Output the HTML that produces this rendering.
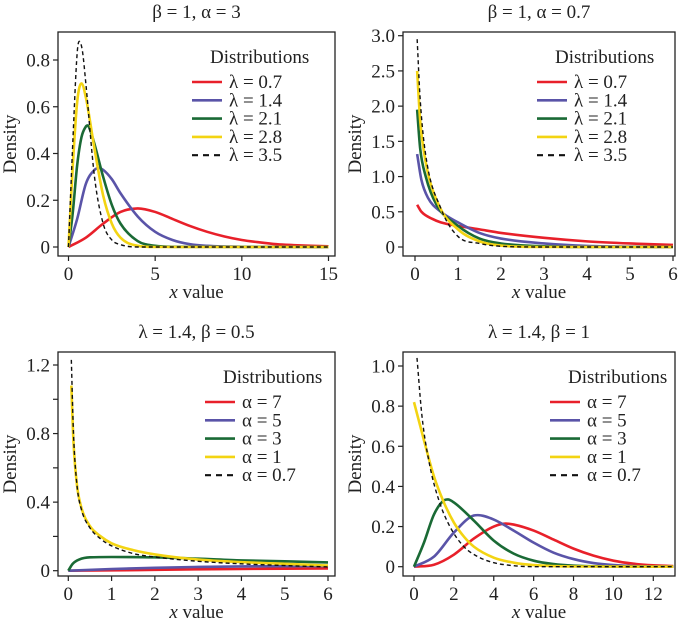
<!DOCTYPE html>
<html><head><meta charset="utf-8">
<style>
html,body{margin:0;padding:0;background:#fff;}
svg{display:block;font-family:"Liberation Serif",serif;}
</style></head>
<body>
<svg id="fig" width="685" height="620" viewBox="0 0 685 620" xmlns="http://www.w3.org/2000/svg"></svg>
<script>
// ---- Panel A: beta=1, alpha=3 ----
const aX1=[0,1,2,3,4,5,6,7,8,9,10,11,12,13,14,15];
const aY1=[0,0.04,0.10,0.15,0.165,0.15,0.12,0.09,0.065,0.045,0.03,0.02,0.012,0.008,0.005,0.003];
const aX2=[0,0.5,1,1.5,1.75,2,2.5,3,4,5,6,7,8,10,15];
const aY2=[0,0.12,0.27,0.33,0.338,0.33,0.29,0.23,0.13,0.065,0.03,0.012,0.005,0.001,0];
const aX3=[0,0.25,0.5,0.75,1,1.1,1.25,1.5,2,2.5,3,4,5,6,15];
const aY3=[0,0.15,0.35,0.47,0.515,0.52,0.5,0.44,0.3,0.18,0.1,0.025,0.005,0.001,0];
const aX4=[0,0.25,0.5,0.75,1,1.5,2,2.5,3,4,5,15];
const aY4=[0,0.35,0.62,0.70,0.64,0.42,0.22,0.1,0.04,0.005,0,0];
const aX5=[0,0.25,0.5,0.62,0.8,1,1.5,2,2.5,3,4,15];
const aY5=[0,0.45,0.83,0.88,0.84,0.7,0.3,0.1,0.03,0.01,0,0];
// ---- Panel B: beta=1, alpha=0.7 ----
const bX1=[0.05,0.15,0.4,0.6,1,1.5,2,3,4,5,6];
const bY1=[0.6,0.5,0.4,0.35,0.3,0.25,0.2,0.13,0.08,0.05,0.03];
const bX2=[0.05,0.15,0.3,0.6,1,1.5,2,3,4,5,6];
const bY2=[1.32,0.95,0.7,0.5,0.35,0.2,0.12,0.05,0.015,0.005,0];
const bX3=[0.05,0.12,0.25,0.5,1,1.5,2,3,4,6];
const bY3=[1.95,1.4,1.0,0.6,0.3,0.12,0.05,0.01,0,0];
const bX4=[0.05,0.12,0.25,0.55,1,1.5,2,3,6];
const bY4=[2.5,1.8,1.2,0.6,0.25,0.08,0.02,0,0];
const bX5=[0.05,0.12,0.25,0.6,1,1.5,2,3,6];
const bY5=[2.95,2.1,1.3,0.55,0.15,0.05,0.01,0,0];
// ---- Panel C: lambda=1.4, beta=0.5 ----
const cX1=[0,1,2,3,4,5,6];
const cY1=[0,0.002,0.005,0.008,0.01,0.012,0.013];
const cX2=[0,1,2,3,4,5,6];
const cY2=[0,0.01,0.017,0.022,0.025,0.026,0.026];
const cX3=[0,0.1,0.25,0.5,1,2,3,4,5,6];
const cY3=[0,0.04,0.065,0.078,0.08,0.078,0.07,0.06,0.055,0.048];
const cX4=[0.07,0.12,0.2,0.3,0.5,0.75,1,1.5,2,3,4,5,6];
const cY4=[1.08,0.75,0.5,0.37,0.26,0.2,0.16,0.12,0.095,0.065,0.05,0.04,0.03];
const cX5=[0.07,0.12,0.2,0.3,0.5,0.75,1,1.5,2,3,4,5,6];
const cY5=[1.23,0.8,0.5,0.36,0.25,0.185,0.145,0.1,0.08,0.055,0.04,0.03,0.022];
// ---- Panel D: lambda=1.4, beta=1 ----
const dX1=[0,1,2,3,4,4.6,5,6,7,8,9,10,11,12,13];
const dY1=[0,0.01,0.06,0.14,0.2,0.215,0.21,0.18,0.135,0.09,0.055,0.03,0.015,0.007,0.003];
const dX2=[0,1,2,3,3.2,4,5,6,7,8,9,10,11,13];
const dY2=[0,0.05,0.17,0.255,0.257,0.235,0.18,0.12,0.07,0.038,0.018,0.008,0.003,0];
const dX3=[0,0.5,1,1.5,1.7,2,3,4,5,6,7,8,10,13];
const dY3=[0,0.12,0.26,0.33,0.335,0.32,0.23,0.13,0.065,0.03,0.013,0.005,0.001,0];
const dX4=[0,0.5,1,1.5,2,2.5,3,4,5,6,8,13];
const dY4=[0.82,0.63,0.45,0.32,0.22,0.15,0.1,0.045,0.02,0.008,0.001,0];
const dX5=[0.15,0.4,0.8,1.25,1.8,2.5,3.2,4,5,6,13];
const dY5=[1.04,0.75,0.5,0.33,0.2,0.1,0.05,0.02,0.005,0,0];

const aTicksY=[0,0.2,0.4,0.6,0.8], aLabY=["0","0.2","0.4","0.6","0.8"], aTicksX=[0,5,10,15];
const bTicksY=[0,0.5,1,1.5,2,2.5,3], bLabY=["0","0.5","1.0","1.5","2.0","2.5","3.0"], bTicksX=[0,1,2,3,4,5,6];
const cTicksY=[0,0.2,0.4,0.6,0.8,1.0,1.2], cLabY=["0","","0.4","","0.8","","1.2"], cTicksX=[0,1,2,3,4,5,6];
const dTicksY=[0,0.2,0.4,0.6,0.8,1.0], dLabY=["0","0.2","0.4","0.6","0.8","1.0"], dTicksX=[0,2,4,6,8,10,12];
const lamLabels=["λ = 0.7","λ = 1.4","λ = 2.1","λ = 2.8","λ = 3.5"];
const alpLabels=["α = 7","α = 5","α = 3","α = 1","α = 0.7"];

const NS="http://www.w3.org/2000/svg";
const svg=document.getElementById('fig');
const COLORS=["#e8202a","#5a54a8","#1a6a35","#f3d412","#111"];
const FS=19;
function mk(tag,attrs,parent){const e=document.createElementNS(NS,tag);for(const k in attrs)e.setAttribute(k,attrs[k]);(parent||svg).appendChild(e);return e;}
function monoPath(xs,ys){
  const n=xs.length;const d=[],m=[];
  for(let i=0;i<n-1;i++)d.push((ys[i+1]-ys[i])/(xs[i+1]-xs[i]));
  m[0]=d[0];m[n-1]=d[n-2];
  for(let i=1;i<n-1;i++){m[i]=(d[i-1]*d[i]<=0)?0:(d[i-1]+d[i])/2;}
  for(let i=0;i<n-1;i++){if(d[i]===0){m[i]=0;m[i+1]=0;continue;}const a=m[i]/d[i],b=m[i+1]/d[i];const s=a*a+b*b;if(s>9){const t=3/Math.sqrt(s);m[i]=t*a*d[i];m[i+1]=t*b*d[i];}}
  let p="M"+xs[0].toFixed(2)+","+ys[0].toFixed(2);
  for(let i=0;i<n-1;i++){const h=xs[i+1]-xs[i];p+=" C"+(xs[i]+h/3).toFixed(2)+","+(ys[i]+m[i]*h/3).toFixed(2)+" "+(xs[i+1]-h/3).toFixed(2)+","+(ys[i+1]-m[i+1]*h/3).toFixed(2)+" "+xs[i+1].toFixed(2)+","+ys[i+1].toFixed(2);}
  return p;
}
function panel(cfg){
  const g=mk('g',{});
  
  
  const sx=v=>cfg.x0+(v-cfg.xmin)*(cfg.x1-cfg.x0)/(cfg.xmax-cfg.xmin);
  const sy=v=>cfg.y0+(v-cfg.ymin)*(cfg.y1-cfg.y0)/(cfg.ymax-cfg.ymin);
  const frame=mk('rect',{x:cfg.L,y:cfg.T,width:cfg.R-cfg.L,height:cfg.B-cfg.T,fill:'none',stroke:'#222','stroke-width':1.3},g);
  
  
  const t=mk('text',{x:(cfg.L+cfg.R)/2,y:cfg.T-14,'text-anchor':'middle','font-size':FS,fill:'#222'},g);t.textContent=cfg.title;
  
  
  cfg.ty.forEach((v,i)=>{const y=sy(v);mk('line',{x1:cfg.L-5,x2:cfg.L,y1:y,y2:y,stroke:'#222','stroke-width':1.2},g);
    if(cfg.ly[i]){const l=mk('text',{x:cfg.L-8,y:y+6.5,'text-anchor':'end','font-size':FS,fill:'#222'},g);l.textContent=cfg.ly[i];
    
    }});
  cfg.tx.forEach(v=>{const x=sx(v);mk('line',{x1:x,x2:x,y1:cfg.B,y2:cfg.B+5,stroke:'#222','stroke-width':1.2},g);
    const l=mk('text',{x:x,y:cfg.B+24,'text-anchor':'middle','font-size':FS,fill:'#222'},g);l.textContent=String(v);
    
    });
  const xt=mk('text',{x:(cfg.L+cfg.R)/2,y:cfg.B+42,'text-anchor':'middle','font-size':FS,fill:'#222'},g);
  xt.innerHTML='<tspan font-style="italic">x</tspan> value';
  
  
  const yt=mk('text',{x:0,y:0,'text-anchor':'middle','font-size':FS,fill:'#222',transform:`translate(${cfg.L-42},${(cfg.T+cfg.B)/2}) rotate(-90)`},g);yt.textContent='Density';
  
  
  cfg.series.forEach((s,i)=>{
    const p=mk('path',{d:monoPath(s[0].map(sx),s[1].map(sy)),fill:'none',stroke:COLORS[i],'stroke-width':i===4?1.4:2.6,'stroke-dasharray':i===4?'4,3':'none','stroke-linejoin':'round'},g);
    
    
  });
  const lt=mk('text',{x:cfg.lgx+18,y:cfg.lgy,'font-size':FS,fill:'#222'},g);lt.textContent='Distributions';
  
  
  cfg.labels.forEach((lab,i)=>{const y=cfg.lgy+25+i*18.3;
    const e=mk('g',{},g);
    
    
    mk('line',{x1:cfg.lgx,x2:cfg.lgx+30,y1:y-6,y2:y-6,stroke:COLORS[i],'stroke-width':i===4?2.2:2.6,'stroke-dasharray':i===4?'6,5':'none'},e);
    const tx=mk('text',{x:cfg.lgx+37,y:y,'font-size':FS,fill:'#222'},e);tx.textContent=lab;});
}
panel({name:'panel-beta1-alpha3',title:'β = 1, α = 3',L:58,R:335,T:32,B:256,x0:68.5,x1:328.5,xmin:0,xmax:15,y0:247,y1:60,ymin:0,ymax:0.8,
  ty:aTicksY,ly:aLabY,tx:aTicksX,labels:lamLabels,lgx:192,lgy:63,
  series:[[aX1,aY1],[aX2,aY2],[aX3,aY3],[aX4,aY4],[aX5,aY5]]});
panel({name:'panel-beta1-alpha07',title:'β = 1, α = 0.7',L:403,R:675,T:32,B:256,x0:415,x1:673,xmin:0,xmax:6,y0:247,y1:35.7,ymin:0,ymax:3,
  ty:bTicksY,ly:bLabY,tx:bTicksX,labels:lamLabels,lgx:537,lgy:63,
  series:[[bX1,bY1],[bX2,bY2],[bX3,bY3],[bX4,bY4],[bX5,bY5]]});
panel({name:'panel-lambda14-beta05',title:'λ = 1.4, β = 0.5',L:58,R:335,T:352,B:576,x0:68.3,x1:328,xmin:0,xmax:6,y0:570.7,y1:365,ymin:0,ymax:1.2,
  ty:cTicksY,ly:cLabY,tx:cTicksX,labels:alpLabels,lgx:205,lgy:383,
  series:[[cX1,cY1],[cX2,cY2],[cX3,cY3],[cX4,cY4],[cX5,cY5]]});
panel({name:'panel-lambda14-beta1',title:'λ = 1.4, β = 1',L:403,R:675,T:352,B:576,x0:414,x1:653.3,xmin:0,xmax:12,y0:566.7,y1:366,ymin:0,ymax:1.0,
  ty:dTicksY,ly:dLabY,tx:dTicksX,labels:alpLabels,lgx:550,lgy:383,
  series:[[dX1,dY1],[dX2,dY2],[dX3,dY3],[dX4,dY4],[dX5,dY5]]});
</script>
</body></html>
